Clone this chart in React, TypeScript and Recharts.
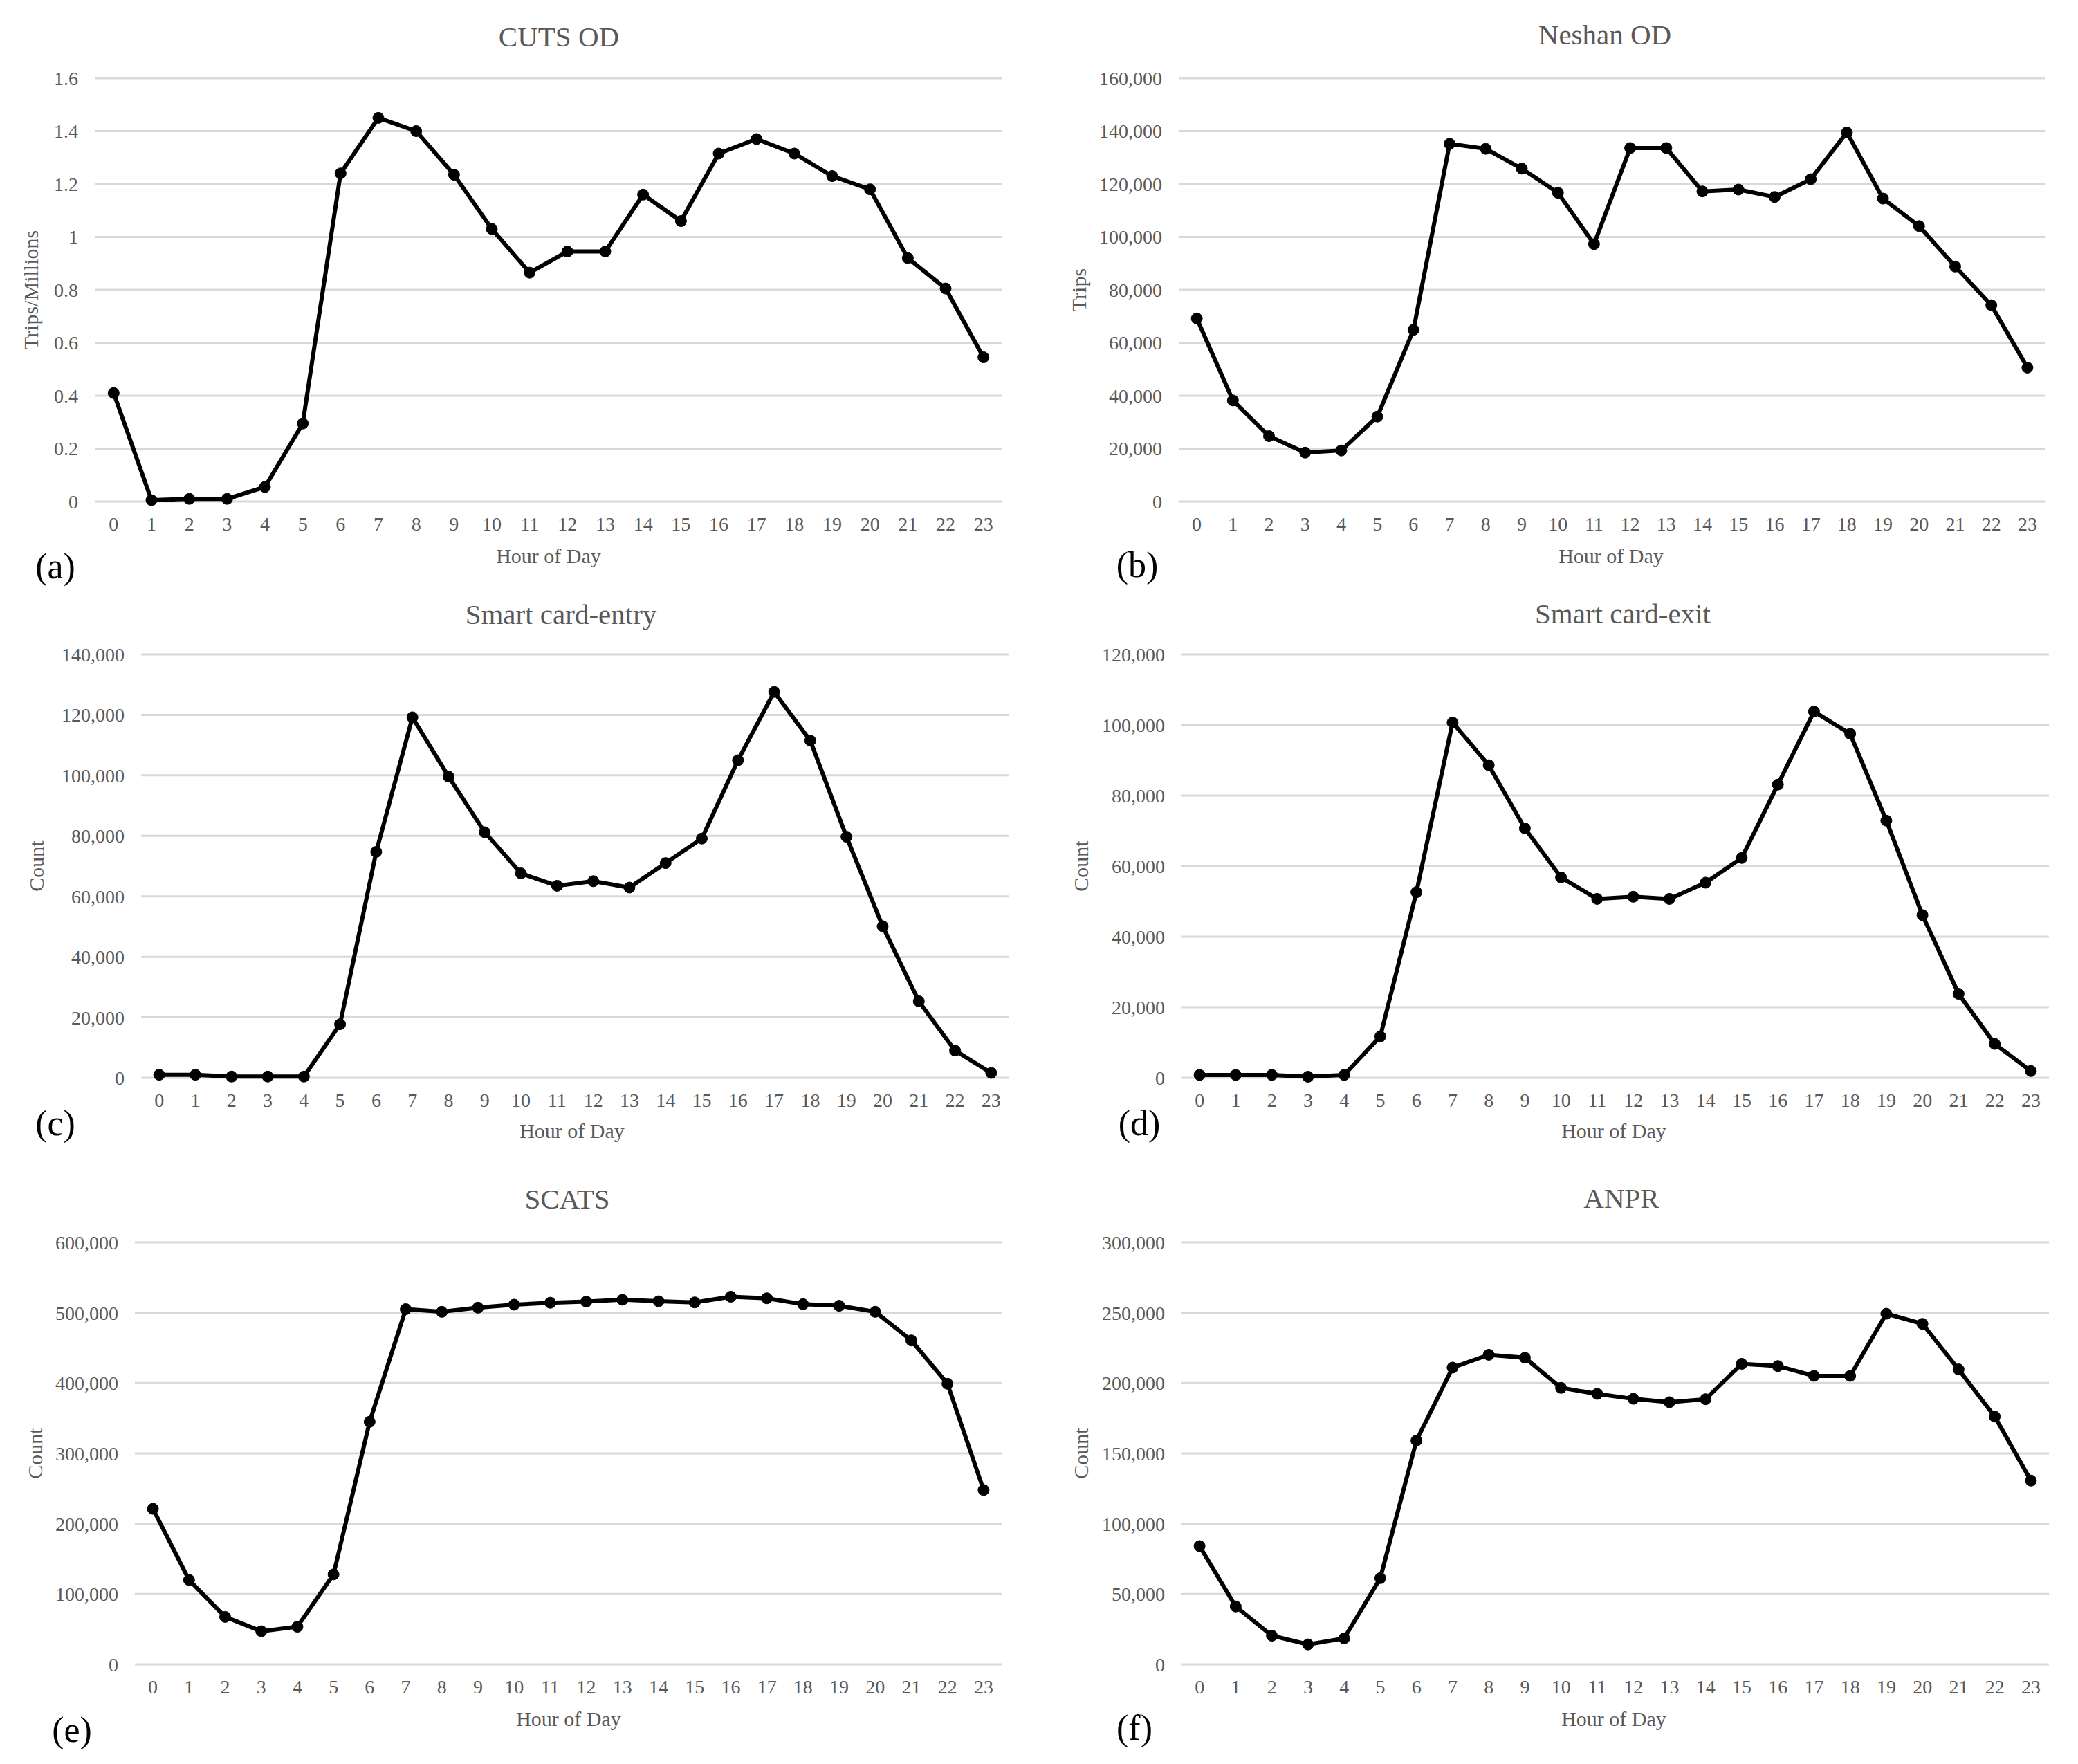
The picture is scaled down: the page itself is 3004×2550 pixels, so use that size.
import { CartesianGrid, Line, LineChart, XAxis, YAxis } from "recharts";

const HOURS = [
  "0", "1", "2", "3", "4", "5", "6", "7", "8", "9", "10", "11",
  "12", "13", "14", "15", "16", "17", "18", "19", "20", "21", "22", "23",
];

// trips, millions
const CUTS_OD = [
  0.41, 0.005, 0.01, 0.01, 0.055, 0.295, 1.24, 1.45, 1.4, 1.235, 1.03, 0.865,
  0.945, 0.945, 1.16, 1.06, 1.315, 1.37, 1.315, 1.23, 1.18, 0.92, 0.805, 0.545,
];

const NESHAN_OD = [
  69200, 38200, 24700, 18500, 19300, 32100, 64900, 135200, 133300, 125800,
  116700, 97300, 133600, 133600, 117200, 117900, 115100, 121800, 139500,
  114500, 104100, 88800, 74200, 50600,
];

const SMART_ENTRY = [
  1000, 1000, 400, 400, 400, 17700, 74700, 119200, 99600, 81200, 67600, 63500,
  65000, 62900, 71000, 79100, 105000, 127600, 111500, 79700, 50100, 25300,
  9000, 1600,
];

const SMART_EXIT = [
  800, 800, 800, 300, 800, 11700, 52600, 100700, 88600, 70700, 56800, 50700,
  51300, 50700, 55300, 62300, 83100, 103800, 97500, 72900, 46100, 23800, 9600,
  1900,
];

const SCATS = [
  221200, 120000, 67500, 47100, 53600, 128000, 345000, 505100, 501300, 507200,
  511500, 514200, 515800, 518500, 516300, 514700, 522800, 520600, 512100,
  509900, 501300, 460600, 399000, 248000,
];

const ANPR = [
  84100, 41200, 20400, 14200, 18500, 61300, 159100, 211000, 220100, 218000,
  196600, 192300, 188800, 186400, 188500, 213700, 212100, 205100, 205100,
  249300, 242100, 209700, 176200, 130700,
];

const TICKS_MILLIONS = [0, 0.2, 0.4, 0.6, 0.8, 1, 1.2, 1.4, 1.6];
const TICKS_160K = [0, 20000, 40000, 60000, 80000, 100000, 120000, 140000, 160000];
const TICKS_140K = [0, 20000, 40000, 60000, 80000, 100000, 120000, 140000];
const TICKS_120K = [0, 20000, 40000, 60000, 80000, 100000, 120000];
const TICKS_600K = [0, 100000, 200000, 300000, 400000, 500000, 600000];
const TICKS_300K = [0, 50000, 100000, 150000, 200000, 250000, 300000];

const FONT = '"Liberation Serif", "Times New Roman", serif';
const GREY = "#595959";
const Y_W = 130;
const X_H = 70;

const fmtMillions = (v: number) => String(Math.round(v * 10) / 10);
const fmtCount = (v: number) => v.toLocaleString("en-US");

type PanelProps = {
  title: string;
  yLabel: string;
  letter: string;
  values: number[];
  ticks: number[];
  fmt: (v: number) => string;
  plot: { x1: number; x2: number; y1: number; y2: number };
  titleAt: [number, number];
  xTitleAt: [number, number];
  yTitleX: number;
  letterAt: [number, number];
};

const PANELS: PanelProps[] = [
  {
    title: "CUTS OD",
    yLabel: "Trips/Millions",
    letter: "(a)",
    values: CUTS_OD,
    ticks: TICKS_MILLIONS,
    fmt: fmtMillions,
    plot: { x1: 137, x2: 1449, y1: 113, y2: 725 },
    titleAt: [808, 53],
    xTitleAt: [793, 804],
    yTitleX: 45,
    letterAt: [80, 819],
  },
  {
    title: "Neshan OD",
    yLabel: "Trips",
    letter: "(b)",
    values: NESHAN_OD,
    ticks: TICKS_160K,
    fmt: fmtCount,
    plot: { x1: 1704, x2: 2957, y1: 113, y2: 725 },
    titleAt: [2320, 50],
    xTitleAt: [2329, 804],
    yTitleX: 1560,
    letterAt: [1644, 817],
  },
  {
    title: "Smart card-entry",
    yLabel: "Count",
    letter: "(c)",
    values: SMART_ENTRY,
    ticks: TICKS_140K,
    fmt: fmtCount,
    plot: { x1: 204, x2: 1459, y1: 946, y2: 1558 },
    titleAt: [811, 888],
    xTitleAt: [827, 1635],
    yTitleX: 53,
    letterAt: [80, 1624],
  },
  {
    title: "Smart card-exit",
    yLabel: "Count",
    letter: "(d)",
    values: SMART_EXIT,
    ticks: TICKS_120K,
    fmt: fmtCount,
    plot: { x1: 1708, x2: 2962, y1: 946, y2: 1558 },
    titleAt: [2346, 887],
    xTitleAt: [2333, 1635],
    yTitleX: 1563,
    letterAt: [1647, 1624],
  },
  {
    title: "SCATS",
    yLabel: "Count",
    letter: "(e)",
    values: SCATS,
    ticks: TICKS_600K,
    fmt: fmtCount,
    plot: { x1: 195, x2: 1448, y1: 1796, y2: 2406 },
    titleAt: [820, 1733],
    xTitleAt: [822, 2485],
    yTitleX: 51,
    letterAt: [104, 2501],
  },
  {
    title: "ANPR",
    yLabel: "Count",
    letter: "(f)",
    values: ANPR,
    ticks: TICKS_300K,
    fmt: fmtCount,
    plot: { x1: 1708, x2: 2962, y1: 1796, y2: 2406 },
    titleAt: [2344, 1732],
    xTitleAt: [2333, 2485],
    yTitleX: 1563,
    letterAt: [1640, 2498],
  },
];

function Text({
  at,
  size,
  color = GREY,
  rotate = false,
  children,
}: {
  at: [number, number];
  size: number;
  color?: string;
  rotate?: boolean;
  children: string;
}) {
  return (
    <div
      style={{
        position: "absolute",
        left: at[0],
        top: at[1],
        transform: `translate(-50%, -50%)${rotate ? " rotate(-90deg)" : ""}`,
        fontFamily: FONT,
        fontSize: size,
        lineHeight: 1,
        color,
        whiteSpace: "nowrap",
      }}
    >
      {children}
    </div>
  );
}

function Panel(p: PanelProps) {
  const { plot } = p;
  const plotW = plot.x2 - plot.x1;
  const plotH = plot.y2 - plot.y1;
  const band = plotW / HOURS.length;
  const data = HOURS.map((hour, i) => ({ hour, value: p.values[i] }));
  const top = 20;
  const right = 20;

  return (
    <>
      <div
        style={{
          position: "absolute",
          left: plot.x1 - Y_W,
          top: plot.y1 - top,
        }}
      >
        <LineChart
          width={plotW + Y_W + right}
          height={plotH + top + X_H}
          data={data}
          margin={{ top, right, left: 0, bottom: 0 }}
        >
          <CartesianGrid
            vertical={false}
            stroke="#d9d9d9"
            strokeWidth={3}
          />
          <XAxis
            dataKey="hour"
            type="category"
            interval={0}
            height={X_H}
            padding={{ left: band / 2, right: band / 2 }}
            axisLine={false}
            tickLine={false}
            tickSize={0}
            tickMargin={22}
            tick={{ fill: GREY, fontSize: 28, fontFamily: FONT }}
          />
          <YAxis
            width={Y_W}
            domain={[0, p.ticks[p.ticks.length - 1]]}
            ticks={p.ticks}
            tickFormatter={p.fmt}
            axisLine={false}
            tickLine={false}
            tickSize={0}
            tickMargin={24}
            tick={{ fill: GREY, fontSize: 28, fontFamily: FONT }}
          />
          <Line
            type="linear"
            dataKey="value"
            stroke="#000"
            strokeWidth={6}
            dot={{ r: 8, fill: "#000", stroke: "#000", strokeWidth: 1 }}
            activeDot={false}
            isAnimationActive={false}
          />
        </LineChart>
      </div>
      <Text at={p.titleAt} size={41}>
        {p.title}
      </Text>
      <Text at={p.xTitleAt} size={30}>
        Hour of Day
      </Text>
      <Text at={[p.yTitleX, (plot.y1 + plot.y2) / 2]} size={30} rotate>
        {p.yLabel}
      </Text>
      <Text at={p.letterAt} size={52} color="#000">
        {p.letter}
      </Text>
    </>
  );
}

export default function App() {
  return (
    <div
      style={{
        position: "absolute",
        left: 0,
        top: 0,
        width: 3004,
        height: 2550,
        background: "#fff",
        overflow: "hidden",
      }}
    >
      {PANELS.map((p) => (
        <Panel key={p.letter} {...p} />
      ))}
    </div>
  );
}
